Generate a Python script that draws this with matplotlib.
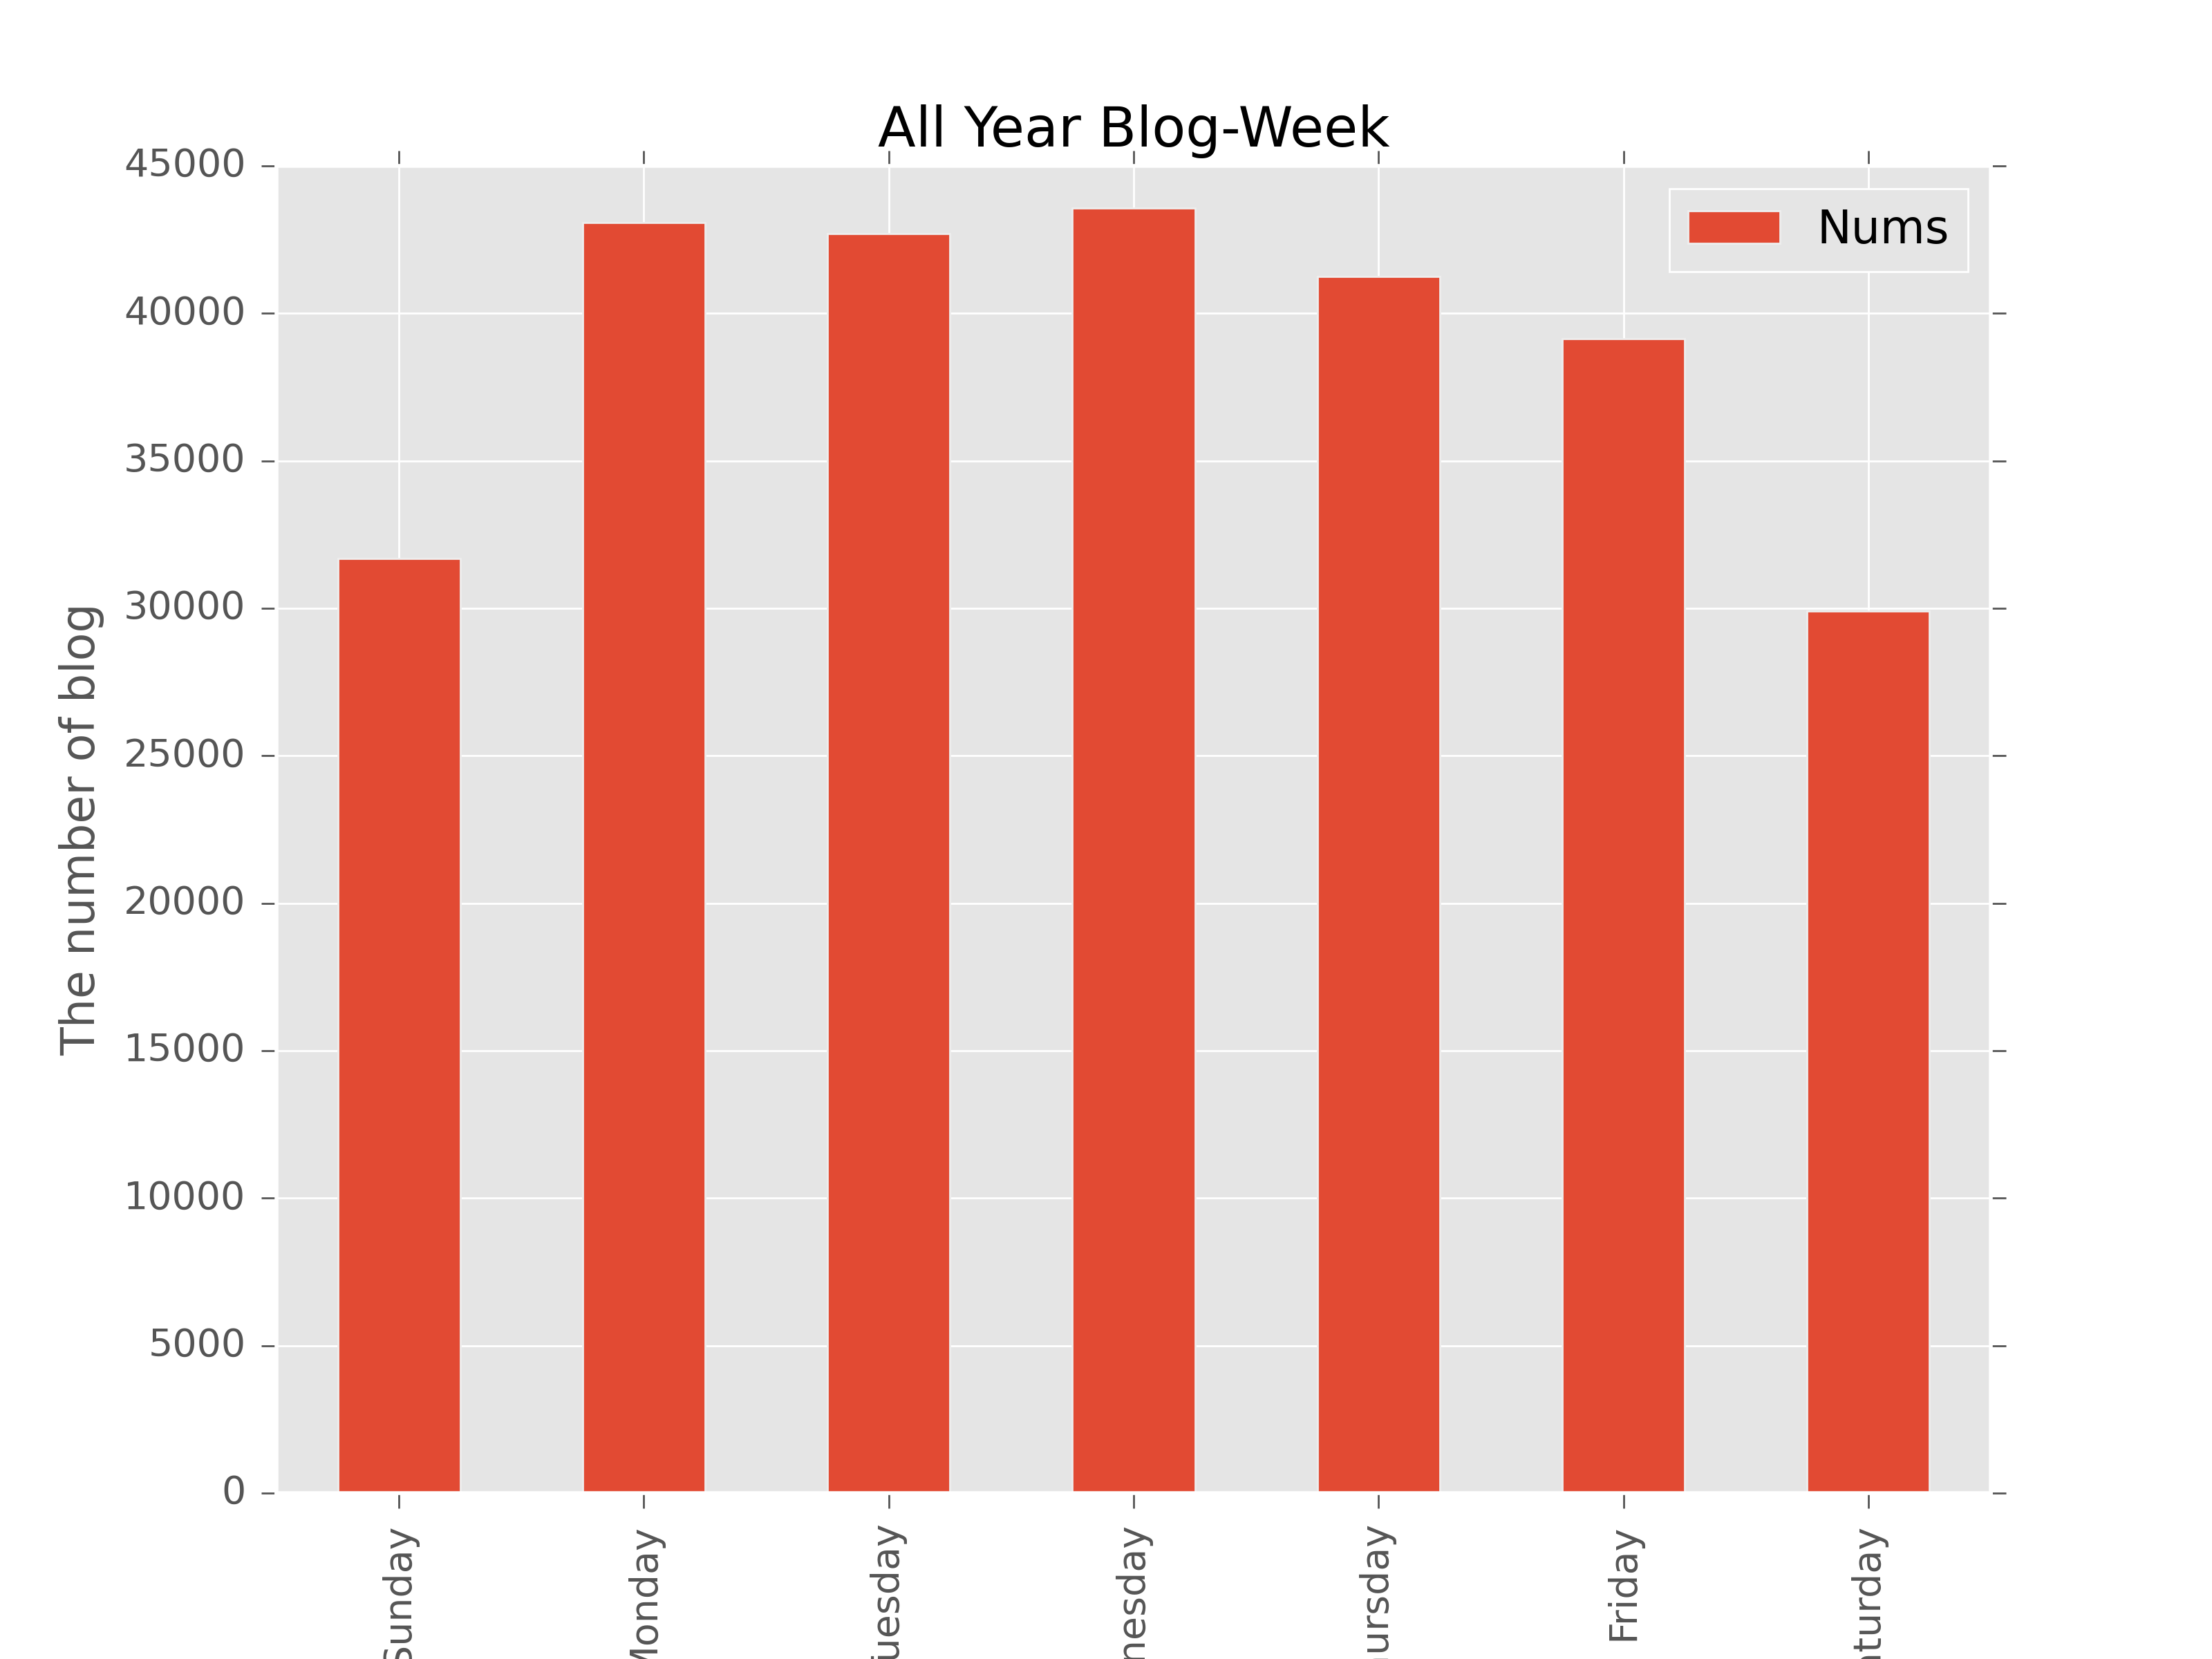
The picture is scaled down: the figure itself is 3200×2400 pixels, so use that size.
import matplotlib
matplotlib.use('Agg')
import matplotlib.pyplot as plt

days = ['Sunday', 'Monday', 'Tuesday', 'Wednesday', 'Thursday', 'Friday', 'Saturday']
nums = [31680, 43080, 42700, 43560, 41260, 39150, 29900]

plt.style.use(['classic', 'ggplot'])

fig, ax = plt.subplots(figsize=(8, 6))
pos = list(range(len(days)))
ax.bar(pos, nums, width=0.5, label='Nums', align='center')
ax.set_xlim(-0.5, len(days) - 0.5)
ax.set_ylim(0, 45000)
ax.set_xticks(pos)
ax.set_xticklabels(days, rotation=90)
ax.set_title('All Year Blog-Week')
ax.set_ylabel('The number of blog')
ax.legend(loc='upper right')

fig.savefig('out.png', dpi=400)
